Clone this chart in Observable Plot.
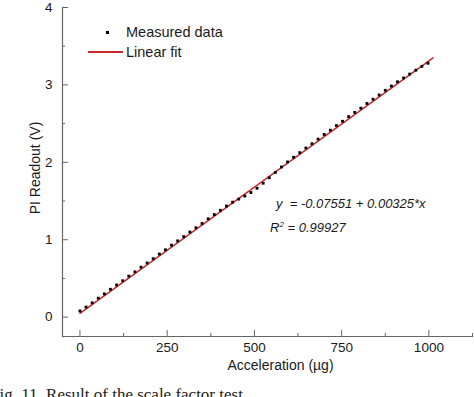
<!DOCTYPE html>
<html>
<head>
<meta charset="utf-8">
<script src="https://cdn.jsdelivr.net/npm/d3@7"></script>
<script src="https://cdn.jsdelivr.net/npm/@observablehq/plot@0.6"></script>
<style>
  html, body { margin: 0; padding: 0; background: #fff; overflow: hidden; }
  #wrap { position: relative; width: 474px; height: 397px; font-family: "Liberation Sans", Arial, sans-serif; color: #1a1a1a; }
  #chart { position: absolute; left: 0; top: 0; }
  .legend { position: absolute; left: 86px; top: 22px; font-size: 14.5px; }
  .legend .row { display: flex; align-items: center; height: 20px; }
  .legend .sym { width: 40px; display: flex; justify-content: center; align-items: center; }
  .legend .sq { width: 3px; height: 3px; background: #000; margin-left: 3px; }
  .legend .ln { width: 35px; height: 2px; background: #c8282d; margin-right: 2px; }
  .eq { position: absolute; font-style: italic; font-size: 13px; white-space: nowrap; }
  .caption { position: absolute; left: -10px; top: 385px; font-family: "Liberation Serif", "Times New Roman", serif; font-size: 17px; color: #222; white-space: nowrap; }
</style>
</head>
<body>
<div id="wrap">
  <div id="chart"></div>
  <div class="legend">
    <div class="row"><span class="sym"><span class="sq"></span></span><span>Measured data</span></div>
    <div class="row"><span class="sym"><span class="ln"></span></span><span>Linear fit</span></div>
  </div>
  <div class="eq" style="left:276px; top:196px;">y&nbsp; = -0.07551 + 0.00325*x</div>
  <div class="eq" style="left:270px; top:220px;">R<sup style="font-size:8px;">2</sup> = 0.99927</div>
  <div class="caption">Fig. 11. Result of the scale factor test</div>
</div>
<script>
// Measured data (acceleration in µg, PI readout in V)
const accel = [0, 17.5, 35, 52.5, 70, 87.5, 105, 122.5, 140, 157.5, 175, 192.5, 210, 227.5, 245, 262.5,
  280, 297.5, 315, 332.5, 350, 367.5, 385, 402.5, 420, 437.5, 455, 472.5, 490, 507.5, 525, 542.5,
  560, 577.5, 595, 612.5, 630, 647.5, 665, 682.5, 700, 717.5, 735, 752.5, 770, 787.5, 805, 822.5,
  840, 857.5, 875, 892.5, 910, 927.5, 945, 962.5, 980, 997.5];
const readout = [0.08, 0.13, 0.185, 0.245, 0.30, 0.36, 0.415, 0.47, 0.53, 0.585, 0.645, 0.70, 0.755, 0.815, 0.87, 0.93,
  0.985, 1.04, 1.10, 1.155, 1.21, 1.27, 1.325, 1.38, 1.435, 1.485, 1.525, 1.565, 1.61, 1.665, 1.73, 1.80,
  1.87, 1.94, 2.005, 2.065, 2.125, 2.185, 2.24, 2.30, 2.36, 2.415, 2.475, 2.53, 2.59, 2.645, 2.70, 2.76,
  2.815, 2.87, 2.93, 2.985, 3.04, 3.09, 3.14, 3.19, 3.24, 3.28];
// Linear fit line end points
const fitX = [0, 1012];
const fitY = [0.05, 3.35];
// Ticks
const xMajor = [0, 250, 500, 750, 1000];
const xMinor = [125, 375, 625, 875, 1125];
const yMajor = [0, 1, 2, 3, 4];
const yMinor = [0.5, 1.5, 2.5, 3.5];

const points = accel.map((a, i) => ({a, v: readout[i]}));
const fit = fitX.map((a, i) => ({a, v: fitY[i]}));

const axisColor = "#666";
const fmt = d => String(d);
const plot = Plot.plot({
  width: 474,
  height: 386,
  marginLeft: 62,
  marginRight: 2,
  marginTop: 7,
  marginBottom: 50,
  style: {fontFamily: "'Liberation Sans', Arial, sans-serif", fontSize: "13px", color: "#1a1a1a", background: "transparent"},
  x: {domain: [-50, 1125]},
  y: {domain: [-0.25, 4]},
  marks: [
    Plot.frame({anchor: "left", stroke: axisColor, strokeWidth: 1.2}),
    Plot.frame({anchor: "bottom", stroke: axisColor, strokeWidth: 1.2}),
    Plot.axisX(xMajor, {tickSize: -6, text: null, stroke: axisColor, label: null}),
    Plot.axisX(xMinor, {tickSize: -3, text: null, stroke: axisColor, label: null}),
    Plot.axisX(xMajor, {tickSize: 0, tickPadding: 6, tickFormat: fmt, label: null, fontSize: 13.5, fill: "#1a1a1a"}),
    Plot.axisY(yMajor, {tickSize: -6, text: null, stroke: axisColor, label: null}),
    Plot.axisY(yMinor, {tickSize: -3, text: null, stroke: axisColor, label: null}),
    Plot.axisY(yMajor, {tickSize: 0, tickPadding: 10, tickFormat: fmt, label: null, fontSize: 13.5, fill: "#1a1a1a"}),
    Plot.line(fit, {x: "a", y: "v", stroke: "#c8282d", strokeWidth: 1.5}),
    Plot.dot(points, {x: "a", y: "v", symbol: "square", r: 1.6, fill: "#000", stroke: "none"}),
    Plot.text(["Acceleration (\u00b5g)"], {frameAnchor: "bottom", lineAnchor: "bottom", dy: 33, dx: 13, fontSize: 14, fill: "#1a1a1a"}),
    Plot.text(["PI Readout (V)"], {frameAnchor: "left", textAnchor: "middle", lineAnchor: "middle", dx: -27, dy: -4, rotate: -90, fontSize: 14, fill: "#1a1a1a"})
  ]
});
document.getElementById("chart").appendChild(plot);
</script>
</body>
</html>
